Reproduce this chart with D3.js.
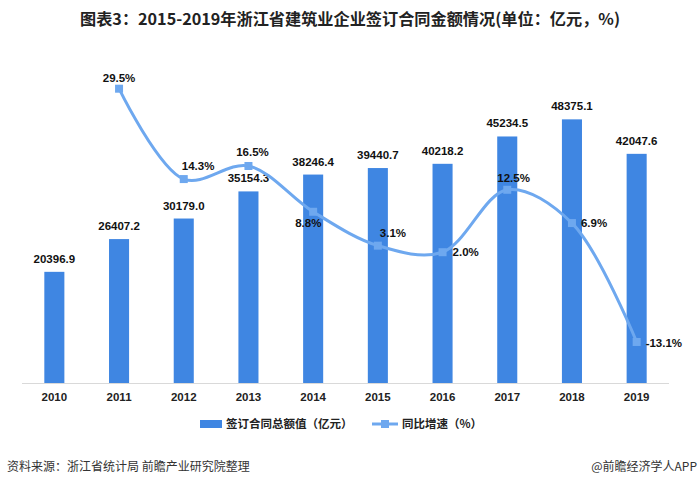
<!DOCTYPE html>
<html>
<head>
<meta charset="utf-8">
<script src="https://cdn.jsdelivr.net/npm/d3@7"></script>
<style>
  body { margin: 0; background: #fff; }
  text { font-family: "Liberation Sans Narrow", "Liberation Sans", "Noto Sans CJK SC", sans-serif; }
  .cjk { font-family: "Noto Sans CJK SC", sans-serif; }
</style>
</head>
<body>
<script>
var width = 700,
    height = 488;

var years = ["2010", "2011", "2012", "2013", "2014", "2015", "2016", "2017", "2018", "2019"];
var amounts = [20396.9, 26407.2, 30179.0, 35154.3, 38246.4, 39440.7, 40218.2, 45234.5, 48375.1, 42047.6];
var growth = [null, 29.5, 14.3, 16.5, 8.8, 3.1, 2.0, 12.5, 6.9, -13.1];

var svg = d3.select("body").append("svg")
    .attr("width", width)
    .attr("height", height);

var x = d3.scaleBand()
    .domain(years)
    .range([22, 669])
    .paddingInner(0.69)
    .paddingOuter(0.345);

var y = d3.scaleLinear()
    .domain([0, 60000])
    .range([383, 56]);

var y2 = d3.scaleLinear()
    .domain([-20, 35])
    .range([383, 56]);

var barColor = "#3f86e2",
    lineColor = "#6ea8ef";

// title
svg.append("text")
  .attr("class", "cjk")
  .attr("x", 350)
  .attr("y", 25)
  .attr("text-anchor", "middle")
  .attr("textLength", 540)
  .attr("lengthAdjust", "spacingAndGlyphs")
  .style("font-size", "16px")
  .style("font-weight", "bold")
  .style("fill", "#222")
  .text("图表3：2015-2019年浙江省建筑业企业签订合同金额情况(单位：亿元，%)");

// bars
svg.append("g").selectAll("rect")
  .data(years)
  .enter().append("rect")
  .attr("x", d => x(d))
  .attr("width", x.bandwidth())
  .attr("y", (d, i) => y(amounts[i]))
  .attr("height", (d, i) => y(0) - y(amounts[i]))
  .attr("fill", barColor);

svg.append("g").selectAll("text")
  .data(years)
  .enter().append("text")
  .attr("x", d => x(d) + x.bandwidth() / 2)
  .attr("y", (d, i) => y(amounts[i]) - 9)
  .attr("text-anchor", "middle")
  .style("font-size", "11.5px")
  .style("font-weight", "bold")
  .style("fill", "#111")
  .text((d, i) => amounts[i].toFixed(1));

// x axis
var xAxis = svg.append("g")
  .attr("transform", "translate(0," + y(0) + ")")
  .call(d3.axisBottom(x).tickSize(0).tickPadding(10));
xAxis.select(".domain").attr("stroke", "#d9d9d9").attr("d", "M22,0.5H669");
xAxis.selectAll("text")
  .style("font-family", "'Liberation Sans Narrow', 'Liberation Sans', sans-serif")
  .style("font-size", "11.5px")
  .style("font-weight", "bold")
  .style("fill", "#222");

// growth line
var pts = years.map((d, i) => ({ year: d, v: growth[i] })).filter(d => d.v !== null);

var line = d3.line()
  .curve(d3.curveCatmullRom.alpha(0.5))
  .x(d => x(d.year) + x.bandwidth() / 2)
  .y(d => y2(d.v));

svg.append("path")
  .datum(pts)
  .attr("d", line)
  .attr("fill", "none")
  .attr("stroke", lineColor)
  .attr("stroke-width", 3);

svg.append("g").selectAll("rect")
  .data(pts)
  .enter().append("rect")
  .attr("x", d => x(d.year) + x.bandwidth() / 2 - 4)
  .attr("y", d => y2(d.v) - 4)
  .attr("width", 8)
  .attr("height", 8)
  .attr("fill", lineColor);

// label offsets relative to each point (dx, dy, anchor)
var labelPos = {
  "2011": [0, -7, "middle"],
  "2012": [-2, -9, "start"],
  "2013": [4, -10, "middle"],
  "2014": [-18, 15, "start"],
  "2015": [2, -9, "start"],
  "2016": [10, 4, "start"],
  "2017": [-10, -8, "start"],
  "2018": [9, 4, "start"],
  "2019": [9, 5, "start"]
};

svg.append("g").selectAll("text")
  .data(pts)
  .enter().append("text")
  .attr("x", d => x(d.year) + x.bandwidth() / 2 + labelPos[d.year][0])
  .attr("y", d => y2(d.v) + labelPos[d.year][1])
  .attr("text-anchor", d => labelPos[d.year][2])
  .style("font-size", "11.5px")
  .style("font-weight", "bold")
  .style("fill", "#111")
  .text(d => d.v.toFixed(1) + "%");

// legend
var legend = svg.append("g").attr("transform", "translate(0,424)");
legend.append("rect")
  .attr("x", 200).attr("y", -4).attr("width", 22).attr("height", 8)
  .attr("fill", barColor);
legend.append("text")
  .attr("class", "cjk")
  .attr("x", 226).attr("y", 4)
  .style("font-size", "11.5px").style("font-weight", "bold").style("fill", "#222")
  .text("签订合同总额值（亿元）");
legend.append("line")
  .attr("x1", 372).attr("x2", 398).attr("y1", 0).attr("y2", 0)
  .attr("stroke", lineColor).attr("stroke-width", 3);
legend.append("rect")
  .attr("x", 381).attr("y", -4).attr("width", 8).attr("height", 8)
  .attr("fill", lineColor);
legend.append("text")
  .attr("class", "cjk")
  .attr("x", 402).attr("y", 4)
  .style("font-size", "11.5px").style("font-weight", "bold").style("fill", "#222")
  .text("同比增速（%）");

// footer
svg.append("text")
  .attr("class", "cjk")
  .attr("x", 7).attr("y", 471)
  .style("font-size", "12px").style("fill", "#333")
  .text("资料来源：浙江省统计局 前瞻产业研究院整理");
svg.append("text")
  .attr("class", "cjk")
  .attr("x", 697).attr("y", 471)
  .attr("text-anchor", "end")
  .style("font-size", "12px").style("fill", "#333")
  .text("@前瞻经济学人APP");
</script>
</body>
</html>
